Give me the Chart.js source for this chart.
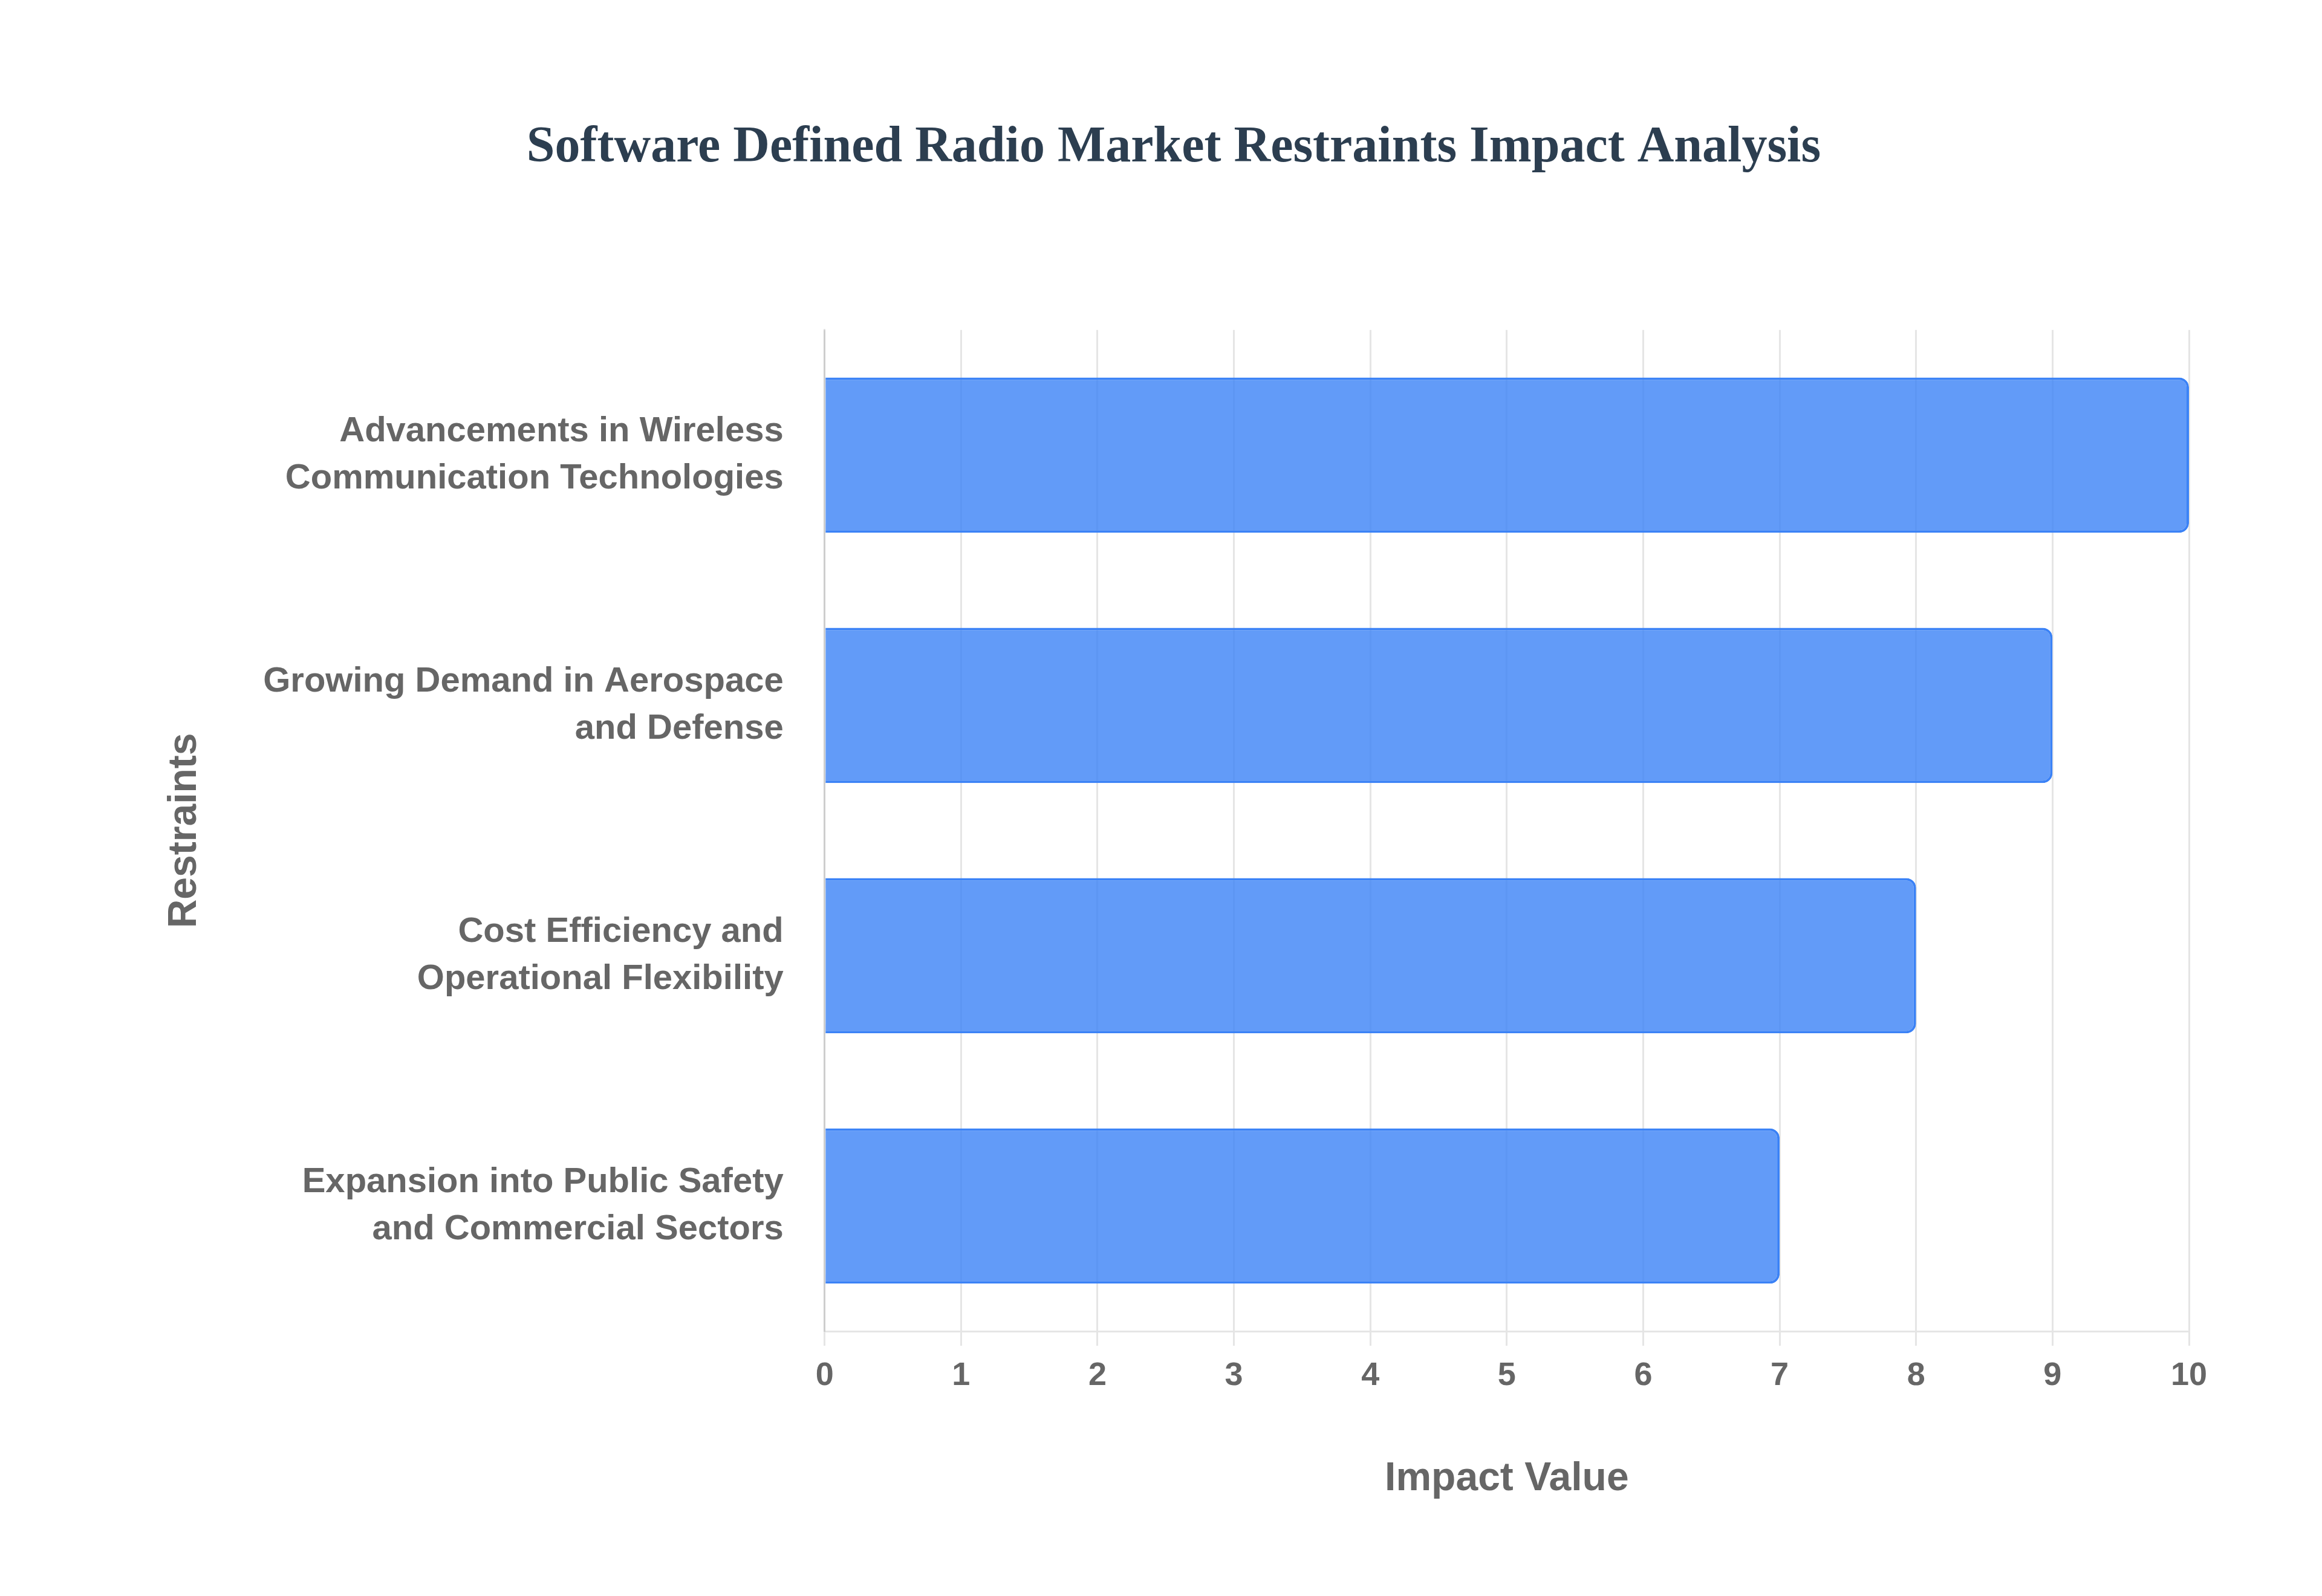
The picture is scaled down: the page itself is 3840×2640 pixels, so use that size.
<!DOCTYPE html>
<html>
<head>
<meta charset="utf-8">
<script src="https://cdn.jsdelivr.net/npm/chart.js@4.4.0/dist/chart.umd.min.js"></script>
<style>
  html, body { margin:0; padding:0; background:#fff; }
  #wrap { width:3840px; height:2640px; }
</style>
</head>
<body>
<div id="wrap"><canvas id="chart" width="3840" height="2640"></canvas></div>
<script>
// restraint categories and their impact scores
const categories = [
  ['Advancements in Wireless', 'Communication Technologies'],
  ['Growing Demand in Aerospace', 'and Defense'],
  ['Cost Efficiency and', 'Operational Flexibility'],
  ['Expansion into Public Safety', 'and Commercial Sectors'],
];
const impactValues = [10, 9, 8, 7];
const xTicks = [0, 1, 2, 3, 4, 5, 6, 7, 8, 9, 10];

const TXT = '#666';
const LABEL_FONT = 'Liberation Sans, Arial, sans-serif';

new Chart(document.getElementById('chart'), {
  type: 'bar',
  data: {
    labels: categories,
    datasets: [{
      data: impactValues,
      backgroundColor: 'rgba(59,130,246,0.8)',
      borderColor: 'rgb(59,130,246)',
      borderWidth: 4, borderRadius: 16, borderSkipped: 'left',
      categoryPercentage: 0.62, barPercentage: 1,
    }],
  },
  options: {
    indexAxis: 'y',
    responsive: false, animation: false, devicePixelRatio: 1,
    layout: { padding: { left: 262, right: 220, top: 75, bottom: 150 } },
    plugins: {
      legend: { display: false },
      tooltip: { enabled: false },
      title: {
        display: true,
        text: 'Software Defined Radio Market Restraints Impact Analysis',
        color: '#2c3e50',
        font: { family: 'Liberation Serif, Times New Roman, serif', size: 84, weight: 'bold' },
        padding: { top: 120, bottom: 250 },
      },
    },
    scales: {
      x: {
        min: 0, max: 10,
        afterBuildTicks: ax => { ax.ticks = xTicks.map(v => ({ value: v })); },
        grid: { color: 'rgba(0,0,0,0.1)', lineWidth: 3, drawTicks: true, tickLength: 24 },
        border: { display: true, color: 'rgba(0,0,0,0.1)', width: 3 },
        ticks: { color: TXT, font: { family: LABEL_FONT, size: 54, weight: 'bold' }, padding: 18 },
        title: { display: true, text: 'Impact Value', color: TXT,
          font: { family: LABEL_FONT, size: 66, weight: 'bold' }, padding: { top: 80 } },
      },
      y: {
        grid: { display: false },
        border: { display: true, color: 'rgba(0,0,0,0.1)', width: 3 },
        ticks: { color: TXT, font: { family: LABEL_FONT, size: 58, weight: 'bold', lineHeight: 1.35 }, padding: 60 },
        title: { display: true, text: 'Restraints', color: TXT,
          font: { family: LABEL_FONT, size: 66, weight: 'bold' }, padding: { bottom: 30 } },
      },
    },
  },
});
</script>
</body>
</html>
